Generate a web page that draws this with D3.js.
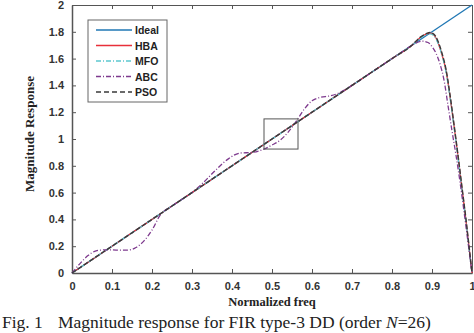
<!DOCTYPE html>
<html><head><meta charset="utf-8">
<script src="https://cdn.jsdelivr.net/npm/d3@7"></script>
<style>body{margin:0;background:#fff;}svg{display:block;}</style>
</head><body>
<svg id="c" width="474" height="333"></svg>
<script>
// ---- data ----
const xTicks = [0,0.1,0.2,0.3,0.4,0.5,0.6,0.7,0.8,0.9,1];
const yTicks = [0,0.2,0.4,0.6,0.8,1,1.2,1.4,1.6,1.8,2];
const xTickLabels = ["0","0.1","0.2","0.3","0.4","0.5","0.6","0.7","0.8","0.9","1"];
const yTickLabels = ["0","0.2","0.4","0.6","0.8","1","1.2","1.4","1.6","1.8","2"];
const seriesNames = ["Ideal","HBA","MFO","ABC","PSO"];

const idealX = [0, 1];
const idealY = [0, 2];

const fX   = [0,0.05,0.1,0.15,0.2,0.25,0.3,0.35,0.4,0.45,0.5,0.55,0.6,0.65,0.7,0.75,0.8,0.85,0.87,0.885,0.895,0.905,0.915,0.925,0.935,0.945,0.955,0.965,0.975,0.985,0.993,1];
const hbaY = [0,0.10,0.20,0.30,0.40,0.50,0.60,0.70,0.80,0.90,1.00,1.10,1.20,1.30,1.40,1.50,1.60,1.70,1.755,1.782,1.79,1.775,1.72,1.63,1.51,1.32,1.10,0.87,0.63,0.39,0.18,0];
const mfoY = [0,0.10,0.20,0.30,0.40,0.50,0.60,0.70,0.80,0.90,1.00,1.10,1.20,1.30,1.40,1.50,1.60,1.70,1.752,1.778,1.785,1.77,1.715,1.625,1.50,1.31,1.09,0.86,0.62,0.38,0.17,0];
const psoY = [0,0.10,0.20,0.30,0.40,0.50,0.60,0.70,0.80,0.90,1.00,1.10,1.20,1.30,1.40,1.50,1.60,1.70,1.758,1.785,1.795,1.782,1.73,1.64,1.52,1.33,1.11,0.88,0.64,0.40,0.19,0];

const abcX = [0,0.02,0.04,0.06,0.08,0.1,0.12,0.14,0.16,0.18,0.2,0.22,0.25,0.28,0.3,0.33,0.36,0.39,0.42,0.45,0.48,0.5,0.52,0.54,0.56,0.58,0.6,0.62,0.645,0.665,0.7,0.74,0.78,0.82,0.85,0.875,0.89,0.9,0.91,0.92,0.93,0.94,0.95,0.96,0.97,0.98,0.99,1];
const abcY = [0,0.07,0.13,0.165,0.172,0.172,0.170,0.171,0.19,0.24,0.32,0.43,0.50,0.56,0.60,0.68,0.77,0.85,0.895,0.90,0.925,0.955,0.99,1.05,1.13,1.22,1.285,1.31,1.322,1.34,1.40,1.48,1.56,1.64,1.70,1.73,1.72,1.69,1.64,1.56,1.44,1.25,1.06,0.88,0.68,0.46,0.23,0];

const zoomBoxX = [0.48, 0.565];
const zoomBoxY = [0.925, 1.15];

// ---- chart ----
const svg = d3.select("#c");
const L = 72, R = 472, T = 5, B = 273;
const x = d3.scaleLinear().domain([0,1]).range([L,R]);
const y = d3.scaleLinear().domain([0,2]).range([B,T]);
const axisCol = "#555";
const tickFont = "'Liberation Sans', Arial, sans-serif";
const serif = "'Liberation Serif', 'Times New Roman', serif";

svg.append("rect").attr("x",L).attr("y",T).attr("width",R-L).attr("height",B-T).attr("fill","#fff");

// axes
const gx = svg.append("g").attr("transform",`translate(0,${B})`)
  .call(d3.axisBottom(x).tickValues(xTicks).tickFormat((d,i)=>xTickLabels[i]).tickSizeInner(-4).tickSizeOuter(0).tickPadding(9));
const gxt = svg.append("g").attr("transform",`translate(0,${T})`)
  .call(d3.axisTop(x).tickValues(xTicks).tickFormat("").tickSizeInner(-4).tickSizeOuter(0));
const gy = svg.append("g").attr("transform",`translate(${L},0)`)
  .call(d3.axisLeft(y).tickValues(yTicks).tickFormat((d,i)=>yTickLabels[i]).tickSizeInner(-4).tickSizeOuter(0).tickPadding(8));
const gyr = svg.append("g").attr("transform",`translate(${R},0)`)
  .call(d3.axisRight(y).tickValues(yTicks).tickFormat("").tickSizeInner(-4).tickSizeOuter(0));
[gx,gxt,gy,gyr].forEach(g=>{
  g.selectAll("path,line").attr("stroke",axisCol).attr("stroke-width",1);
  g.selectAll("text").attr("font-family",tickFont).attr("font-weight","bold").attr("font-size",11).attr("fill","#333");
});
gx.selectAll("path.domain").attr("stroke-width",1.5);
gy.selectAll("path.domain").attr("stroke-width",1.5);
// keep the last x label inside the window
gx.selectAll(".tick text").filter(d=>d===1).attr("text-anchor","end").attr("dx","3");

// lines
const line = d3.line().x(d=>x(d[0])).y(d=>y(d[1])).curve(d3.curveMonotoneX);
const zip = (xs,ys)=>xs.map((v,i)=>[v,ys[i]]);
const plot = svg.append("g");
plot.append("path").datum(zip(idealX,idealY)).attr("d",line).attr("fill","none").attr("stroke","#1f77b4").attr("stroke-width",1.3);
plot.append("path").datum(zip(fX,hbaY)).attr("d",line).attr("fill","none").attr("stroke","#e8303a").attr("stroke-width",1.3);
plot.append("path").datum(zip(fX,mfoY)).attr("d",line).attr("fill","none").attr("stroke","#5cc8d0").attr("stroke-width",1.3).attr("stroke-dasharray","5,2,1,2");
plot.append("path").datum(zip(abcX,abcY)).attr("d",line).attr("fill","none").attr("stroke","#7e3a8e").attr("stroke-width",1.3).attr("stroke-dasharray","5,2,1,2");
plot.append("path").datum(zip(fX,psoY)).attr("d",line).attr("fill","none").attr("stroke","#3a3a3a").attr("stroke-width",1.4).attr("stroke-dasharray","5,2");

// zoom box
svg.append("rect").attr("x",x(zoomBoxX[0])).attr("y",y(zoomBoxY[1]))
  .attr("width",x(zoomBoxX[1])-x(zoomBoxX[0])).attr("height",y(zoomBoxY[0])-y(zoomBoxY[1]))
  .attr("fill","none").attr("stroke","#555").attr("stroke-width",1);

// legend
const lg = svg.append("g");
lg.append("rect").attr("x",88).attr("y",20).attr("width",79).attr("height",82).attr("fill","#fff").attr("stroke","#666").attr("stroke-width",1);
const legStyles = [
  {c:"#1f77b4",d:null},{c:"#e8303a",d:null},{c:"#5cc8d0",d:"5,2,1,2"},{c:"#7e3a8e",d:"5,2,1,2"},{c:"#3a3a3a",d:"5,3"}
];
seriesNames.forEach((n,i)=>{
  const yy = 30 + i*15.5;
  lg.append("line").attr("x1",96).attr("x2",132).attr("y1",yy).attr("y2",yy)
    .attr("stroke",legStyles[i].c).attr("stroke-width",1.3).attr("stroke-dasharray",legStyles[i].d);
  lg.append("text").attr("x",135).attr("y",yy+4).text(n)
    .attr("font-family",tickFont).attr("font-weight","bold").attr("font-size",10.5).attr("fill","#222");
});

// axis labels
svg.append("text").attr("x",(L+R)/2).attr("y",306).attr("text-anchor","middle")
  .attr("font-family",serif).attr("font-weight","bold").attr("font-size",12.5).attr("fill","#222").text("Normalized freq");
svg.append("text").attr("transform",`translate(34,${134}) rotate(-90)`).attr("text-anchor","middle")
  .attr("font-family",serif).attr("font-weight","bold").attr("font-size",13).attr("fill","#222").text("Magnitude Response");

// caption
svg.append("text").attr("x",2).attr("y",328).attr("font-family",serif).attr("font-size",17.5).attr("fill","#222").text("Fig. 1");
const cap = svg.append("text").attr("x",58).attr("y",328).attr("font-family",serif).attr("font-size",17.5).attr("fill","#222");
cap.append("tspan").text("Magnitude response for FIR type-3 DD (order ");
cap.append("tspan").attr("font-style","italic").text("N");
cap.append("tspan").text("=26)");
</script>
</body></html>
